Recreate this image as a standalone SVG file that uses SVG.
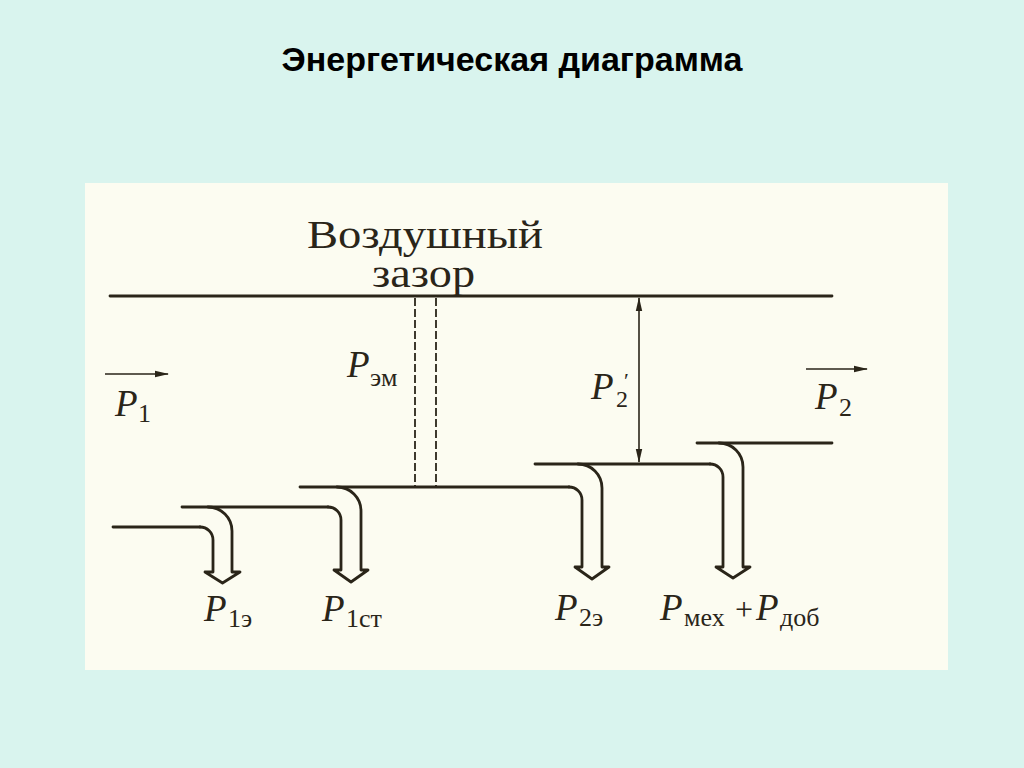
<svg xmlns="http://www.w3.org/2000/svg" width="1024" height="768" viewBox="0 0 1024 768">
<defs>
<style>
.ln{stroke:#2a2519;stroke-width:2.8;fill:none;stroke-linecap:round;stroke-linejoin:round}
.dash{stroke:#2a2519;stroke-width:1.8;fill:none;stroke-dasharray:8 3}
.thin{stroke:#2a2519;stroke-width:1.6;fill:none}
.lbl{font-family:"Liberation Serif","Times New Roman",serif;fill:#2a2519}
.P{font-style:italic;font-size:37px}
.sub{font-size:26px}
.title{font-family:"Liberation Sans",Arial,sans-serif;font-weight:bold;font-size:34px;fill:#000}
</style>
<marker id="ah" viewBox="0 0 14 8" refX="13" refY="4" markerWidth="14" markerHeight="8" markerUnits="userSpaceOnUse" orient="auto-start-reverse">
<path d="M0,0.8 L14,4 L0,7.2 Z" fill="#2a2519"/>
</marker>
</defs>
<rect x="0" y="0" width="1024" height="768" fill="#d9f4ee"/>
<rect x="85" y="183" width="863" height="487" fill="#fcfcf1"/>
<text class="title" x="512" y="71" text-anchor="middle">Энергетическая диаграмма</text>

<g id="connectors">
<line class="ln" x1="110" y1="296" x2="832" y2="296"/>
<line class="ln" x1="113" y1="527" x2="200" y2="527"/>
<line class="ln" x1="182" y1="507" x2="328" y2="507"/>
<line class="ln" x1="300" y1="487" x2="569" y2="487"/>
<line class="ln" x1="535" y1="464" x2="710" y2="464"/>
<line class="ln" x1="697" y1="443" x2="832" y2="443"/>
<line class="dash" x1="415" y1="298" x2="415" y2="486"/>
<line class="dash" x1="436" y1="298" x2="436" y2="486"/>
<line class="thin" x1="639" y1="298" x2="639" y2="462" marker-start="url(#ah)" marker-end="url(#ah)"/>
<line class="thin" x1="105" y1="374" x2="168" y2="374" marker-end="url(#ah)"/>
<line class="thin" x1="806" y1="369" x2="867" y2="369" marker-end="url(#ah)"/>
</g>

<g id="arrow-p1e">
<path class="ln" d="M200,527 A13,13 0 0 1 213,540 L213,572 L205,572 L222.5,583 L240,572 L232,572 L232,531 A24,24 0 0 0 208,507"/>
</g>
<g id="arrow-p1st">
<path class="ln" d="M328,507 A13,13 0 0 1 341,520 L341,570 L334,570 L351,582 L368,570 L361,570 L361,511 A24,24 0 0 0 337,487"/>
</g>
<g id="arrow-p2e">
<path class="ln" d="M569,487 A13,13 0 0 1 582,500 L582,567 L575,567 L592,579 L609,567 L602,567 L602,488 A24,24 0 0 0 578,464"/>
</g>
<g id="arrow-pmech">
<path class="ln" d="M710,464 A13,13 0 0 1 723,477 L723,567 L716,567 L733,578 L750,567 L743,567 L743,467 A24,24 0 0 0 719,443"/>
</g>

<g id="label-gap" class="lbl">
<text font-size="40"><tspan x="307" y="248" textLength="236" lengthAdjust="spacingAndGlyphs">Воздушный</tspan><tspan x="372" y="287" textLength="103" lengthAdjust="spacingAndGlyphs">зазор</tspan></text>
</g>
<g id="label-pem" class="lbl">
<text x="347" y="377"><tspan class="P">P</tspan><tspan class="sub" x="370" dy="9">эм</tspan></text>
</g>
<g id="label-p2prime" class="lbl">
<text x="591" y="399"><tspan class="P" font-size="34">P</tspan><tspan x="624" y="388" font-size="22">′</tspan><tspan x="616" y="407" font-size="24">2</tspan></text>
</g>
<g id="label-p1" class="lbl">
<text x="115" y="416"><tspan class="P">P</tspan><tspan class="sub" x="138" dy="6">1</tspan></text>
</g>
<g id="label-p2" class="lbl">
<text x="815" y="409"><tspan class="P">P</tspan><tspan class="sub" x="839" dy="7">2</tspan></text>
</g>
<g id="label-p1e" class="lbl">
<text x="204" y="621"><tspan class="P">P</tspan><tspan class="sub" x="228" dy="6">1э</tspan></text>
</g>
<g id="label-p1st" class="lbl">
<text x="322" y="621"><tspan class="P">P</tspan><tspan class="sub" x="346" dy="6">1ст</tspan></text>
</g>
<g id="label-p2e" class="lbl">
<text x="555" y="620"><tspan class="P">P</tspan><tspan class="sub" x="579" dy="6">2э</tspan></text>
</g>
<g id="label-pmech" class="lbl">
<text x="660" y="620"><tspan class="P">P</tspan><tspan class="sub" x="684" dy="6">мех</tspan><tspan x="735" y="620" font-size="32">+</tspan><tspan class="P" x="756" y="620">P</tspan><tspan class="sub" x="780" dy="6">доб</tspan></text>
</g>
</svg>
